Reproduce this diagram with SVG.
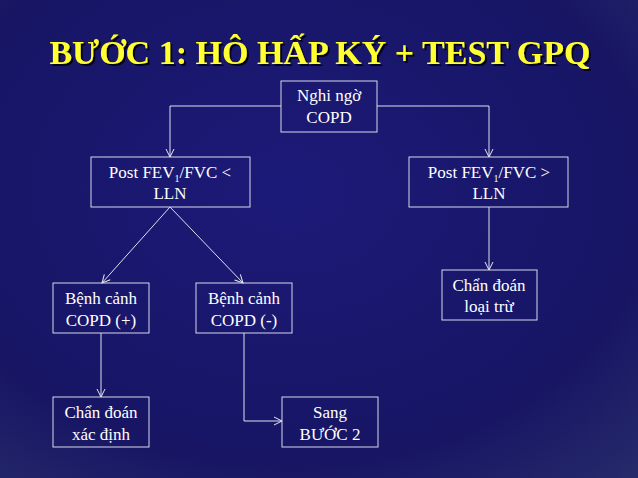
<svg xmlns="http://www.w3.org/2000/svg" width="638" height="478" viewBox="0 0 638 478">
<defs>
<radialGradient id="bg" cx="0.45" cy="0.4" r="0.8">
<stop offset="0" stop-color="#1c1a78"/><stop offset="0.7" stop-color="#171564"/><stop offset="1" stop-color="#26296a"/>
</radialGradient>
<marker id="ar" markerWidth="10" markerHeight="10" refX="9" refY="5" orient="auto" markerUnits="userSpaceOnUse">
<path d="M1,1 L9,5 L1,9" fill="none" stroke="#e8e8f4" stroke-width="1"/>
</marker>
<filter id="sh"><feDropShadow dx="2" dy="2" stdDeviation="0.5" flood-color="#000" flood-opacity="0.8"/></filter>
</defs>
<style>
.b{fill:none;stroke:#d8d8ec;stroke-width:1}
.t{font-family:"Liberation Serif",serif;font-size:17px;fill:#ffffff;text-anchor:middle}
.c{fill:none;stroke:#e0e0f0;stroke-width:1;marker-end:url(#ar)}
</style>
<rect width="638" height="478" fill="url(#bg)"/>
<text x="320" y="64" font-family="Liberation Serif,serif" font-weight="bold" font-size="34" fill="#ffff33" text-anchor="middle" filter="url(#sh)">BƯỚC 1: HÔ HẤP KÝ + TEST GPQ</text>
<g id="connectors">
<path class="c" d="M281,106 H170 V157"/>
<path class="c" d="M377,106 H489 V157"/>
<path class="c" d="M170,207 L102,283"/>
<path class="c" d="M170,207 L243,283"/>
<path class="c" d="M101,333 V397"/>
<path class="c" d="M244,333 V421 H282"/>
<path class="c" d="M489,207 V270"/>
</g>
<g id="n1"><rect class="b" x="281" y="81" width="96" height="51"/><text class="t" x="329" y="101">Nghi ngờ</text><text class="t" x="329" y="123">COPD</text></g>
<g id="n2"><rect class="b" x="91" y="157" width="159" height="50"/><text class="t" x="170" y="178">Post FEV<tspan font-size="10" dy="4">1</tspan><tspan dy="-4">/FVC &lt;</tspan></text><text class="t" x="170" y="199">LLN</text></g>
<g id="n3"><rect class="b" x="409" y="157" width="159" height="50"/><text class="t" x="489" y="178">Post FEV<tspan font-size="10" dy="4">1</tspan><tspan dy="-4">/FVC &gt;</tspan></text><text class="t" x="489" y="199">LLN</text></g>
<g id="n4"><rect class="b" x="53" y="283" width="96" height="50"/><text class="t" x="101" y="304">Bệnh cảnh</text><text class="t" x="101" y="326">COPD (+)</text></g>
<g id="n5"><rect class="b" x="196" y="283" width="96" height="50"/><text class="t" x="244" y="304">Bệnh cảnh</text><text class="t" x="244" y="326">COPD (-)</text></g>
<g id="n6"><rect class="b" x="442" y="270" width="95" height="50"/><text class="t" x="489" y="291">Chẩn đoán</text><text class="t" x="489" y="312">loại trừ</text></g>
<g id="n7"><rect class="b" x="53" y="397" width="96" height="50"/><text class="t" x="101" y="418">Chẩn đoán</text><text class="t" x="101" y="440">xác định</text></g>
<g id="n8"><rect class="b" x="282" y="397" width="96" height="50"/><text class="t" x="330" y="418">Sang</text><text class="t" x="330" y="440">BƯỚC 2</text></g>
</svg>
